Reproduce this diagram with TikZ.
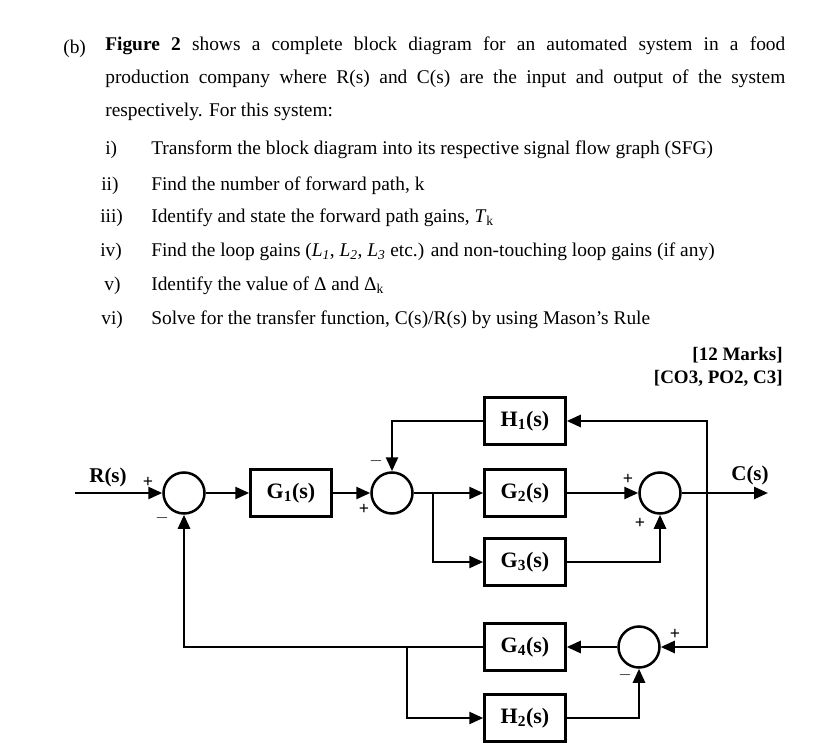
\documentclass[tikz,border=0pt]{standalone}
\usepackage{fontspec}
\setmainfont{Liberation Serif}
\usetikzlibrary{arrows.meta,positioning}
\tikzset{
  block/.style={draw,line width=2.5pt,minimum width=81pt,minimum height=47pt,font=\fontsize{22}{24}\selectfont\bfseries},
  sum/.style={draw,circle,line width=2.5pt,minimum size=41pt,inner sep=0pt},
  sign/.style={font=\fontsize{18}{18}\selectfont\bfseries,inner sep=0pt},
  txt/.style={anchor=base west,inner sep=0pt,font=\fontsize{19.4}{33}\selectfont},
}
\begin{document}
\begin{tikzpicture}[x=1pt,y=-1pt,>={Triangle[length=14pt,width=12pt]},line width=2.6pt]
\useasboundingbox (0,0) rectangle (839,752);
% question text
\node[txt] (b) at (62,54) {(b)};
\node[txt,text width=680pt,align=justify,anchor=north west] (para) at (104,36)
  {\textbf{Figure 2} shows a complete block diagram for an automated system in a food\linebreak
   production company where R(s) and C(s) are the input and output of the system\linebreak
   respectively. For this system:};
\node[txt] (i1) at (104,154) {i)};
\node[txt] (t1) at (150,154) {Transform the block diagram into its respective signal flow graph (SFG)};
\node[txt] (i2) at (100,190) {ii)};
\node[txt] (t2) at (150,190) {Find the number of forward path, k};
\node[txt] (i3) at (99,222) {iii)};
\node[txt] (t3) at (150,222) {Identify and state the forward path gains, \textit{T}\textsubscript{k}};
\node[txt] (i4) at (99,256) {iv)};
\node[txt] (t4) at (150,256) {Find the loop gains (\textit{L}\textsubscript{\textit{1}}, \textit{L}\textsubscript{\textit{2}}, \textit{L}\textsubscript{\textit{3}} etc.) and non-touching loop gains (if any)};
\node[txt] (i5) at (103,290) {v)};
\node[txt] (t5) at (150,290) {Identify the value of Δ and Δ\textsubscript{k}};
\node[txt] (i6) at (100,324) {vi)};
\node[txt] (t6) at (150,324) {Solve for the transfer function, C(s)/R(s) by using Mason’s Rule};
\node[txt,anchor=base east,font=\fontsize{19}{22}\selectfont\bfseries] (marks) at (784,360) {[12 Marks]};
\node[txt,anchor=base east,font=\fontsize{19}{22}\selectfont\bfseries] (co) at (784,383) {[CO3, PO2, C3]};

% block diagram
\node[sum] (s1) at (184,493) {};
\node[block] (g1) at (291,493) {G\textsubscript{1}(s)};
\node[sum] (s2) at (392,493) {};
\node[block] (h1) at (525,421) {H\textsubscript{1}(s)};
\node[block] (g2) at (525,493) {G\textsubscript{2}(s)};
\node[block] (g3) at (525,562) {G\textsubscript{3}(s)};
\node[block] (g4) at (525,647) {G\textsubscript{4}(s)};
\node[block] (h2) at (525,718) {H\textsubscript{2}(s)};
\node[sum] (s3) at (660,493) {};
\node[sum] (s4) at (639,647) {};
\coordinate (in) at (75,493);
\coordinate (out) at (768,493);
\coordinate (tap) at (707,493);
\coordinate (split) at (433,493);
\coordinate (fb) at (407,647);

\node[font=\fontsize{21}{24}\selectfont\bfseries] (rlab) at (108,477) {R(s)};
\node[font=\fontsize{21}{24}\selectfont\bfseries] (clab) at (750,475) {C(s)};

\draw[->] (in) -- (s1);
\draw[->] (s1) -- (g1);
\draw[->] (g1) -- (s2);
\draw[->] (s2) -- (g2);
\draw[->] (split) |- (g3);
\draw[->] (g2) -- (s3);
\draw[->] (g3) -| (s3);
\draw[->] (s3) -- (out);
\draw[->] (tap) |- (h1);
\draw[->] (h1) -| (s2);
\draw[->] (tap) |- (s4);
\draw[->] (s4) -- (g4);
\draw[->] (g4) -| (s1);
\draw[->] (fb) |- (h2);
\draw[->] (h2) -| (s4);

\node[sign] at (148,482) {+};
\node[sign] at (162,518) {$-$};
\node[sign] at (376,461) {$-$};
\node[sign] at (364,509) {+};
\node[sign] at (628,479) {+};
\node[sign] at (640,523) {+};
\node[sign] at (675,634) {+};
\node[sign] at (625,675) {$-$};
\end{tikzpicture}
\end{document}
